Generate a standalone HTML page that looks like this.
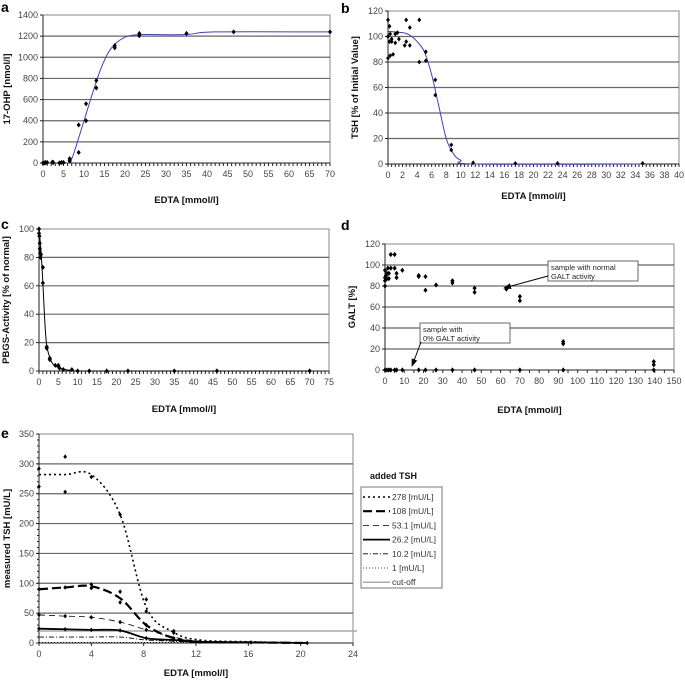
<!DOCTYPE html>
<html><head><meta charset="utf-8"><style>
body{margin:0;background:#fff}
svg{display:block;font-family:"Liberation Sans",Arial,sans-serif}
</style></head><body>
<svg id="fig" width="685" height="682" viewBox="0 0 685 682" xmlns="http://www.w3.org/2000/svg"></svg>
<script>
// ---- data: panel a
const aX=[0,0.3,0.6,1,2.3,2.5,4,4.5,5,6.5,6.5,8.7,8.7,10.5,10.5,13,13,17.5,17.5,23.5,23.5,35,46.5,70];
const aY=[0,0,5,5,8,5,0,5,5,40,20,360,100,560,400,780,710,1110,1090,1225,1205,1225,1240,1240];
const aFitX=[0,6,7,8,10,12,14,16,18,20,22,25,35,42,70];
const aFitY=[0,0,40,150,400,650,880,1050,1140,1190,1210,1215,1215,1240,1240];
// ---- panel b
const bX=[0,0,0,0.2,0.2,0.3,0.3,0.5,0.5,0.7,1,1,1.3,1.5,2.3,2.5,2.5,3,3,4.3,4.3,5.2,5.2,6.5,6.5,8.7,8.7,11.7,17.5,23.3,35];
const bY=[113,100,83,108,96,102,85,98,96,86,102,95,103,98,93,113,96,107,93,113,80,88,81,66,54,15,11,1,0.5,0.5,0.5];
const bFitX=[0,2,3,4,5,6,7,8,9,10,12,35];
const bFitY=[104,103,101,96,88,70,45,20,8,3,0,0];
// ---- panel c
const cX=[0,0,0.1,0.2,0.2,0.3,0.4,0.5,1,1,2,2,2.8,2.8,4.2,5,5.3,6.3,8.5,10,13,17.5,23,35,46,70];
const cY=[100,97,95,90,86,83,80,82,73,62,17,16,9,8,4,4,2,1,1,0,0,0,0,0,0,0];
const cFitX=[0,0.5,1,1.5,2,3,4,6,8,10,15,70];
const cFitY=[100,85,62,35,18,8,4,1.5,0.5,0,0,0];
// ---- panel d
const dX=[0,0,0,0,0.5,1,1,1.5,2,2,3,3,5,5,6,6,9,17.5,17.5,21,21,26.5,35,35,46.5,46.5,63,70,70,92.5,92.5,139.5,139.5,0,1,2,3,5,6,9,17.5,21,26.5,35,46.5,70,92.5,139.5];
const dY=[88,85,80,95,90,87,92,97,87,92,110,97,110,97,92,88,95,90,89,89,76,81,85,83,78,74,77,70,66,27,25,8,5,0,0,0,0,0,0,0,0,0,0,0,0,0,0,0];
// ---- panel e
const eX=[0,2,4,6.2,8.2,10.3,12.3,16.2,20.5];
const eS278=[282,282,282,215,60,18,5,2,0];
const eS108=[90,93,95,75,30,8,2,1,0];
const eS53=[47,45,43,35,22,10,3,1,0];
const eS26=[24,23,22,21,8,5,2,1,0];
const eS10=[10,10,10,10,5,3,1,0.5,0];
const eS1=[1,1,1,1,1,1,0.5,0.5,0];
const eCut=20;
const ePtX=[0,0,2,2,4,6.2,8.2,8.2,10.3,10.3,0,2,4,4,6.2,6.2,8.2,10.3,0,2,4,6.2,8.2,0,2,4,6.2,8.2,10.3,12.3,16.2,20.5];
const ePtY=[292,262,312,253,278,215,73,53,20,17,90,93,98,92,86,68,30,8,47,45,43,35,22,24,23,22,21,8,5,2,1,0];
const eLegend=["278 [mU/L]","108 [mU/L]","53.1 [mU/L]","26.2 [mU/L]","10.2 [mU/L]","1 [mU/L]","cut-off"];

const NS="http://www.w3.org/2000/svg";
const svg=document.getElementById('fig');
function mk(tag,attrs,parent){const e=document.createElementNS(NS,tag);for(const k in attrs)e.setAttribute(k,attrs[k]);(parent||svg).appendChild(e);return e;}
function txt(s,x,y,attrs){const t=mk('text',Object.assign({x:x,y:y,'font-size':9,fill:'#444'},attrs||{}));t.textContent=s;return t;}

function panel(o){
  const g=mk('g',{});
  
  
  const sx=v=>o.px0+(v-o.xmin)/(o.xmax-o.xmin)*(o.px1-o.px0);
  const sy=v=>o.py0-(v-o.ymin)/(o.ymax-o.ymin)*(o.py0-o.py1);
  mk('rect',{x:o.px0,y:o.py1,width:o.px1-o.px0,height:o.py0-o.py1,fill:'#fff',stroke:'#888','stroke-width':1},g);
  for(let v=o.ymin+o.ystep;v<o.ymax;v+=o.ystep){
    const gl=mk('line',{x1:o.px0,x2:o.px1,y1:sy(v),y2:sy(v),stroke:'#666','stroke-width':1.2},g);
    
    
  }
  mk('line',{x1:o.px0,x2:o.px0,y1:o.py1,y2:o.py0,stroke:'#222'},g);
  mk('line',{x1:o.px0,x2:o.px1,y1:o.py0,y2:o.py0,stroke:'#222'},g);
  for(let v=o.ymin;v<=o.ymax+1e-9;v+=o.ystep){
    mk('line',{x1:o.px0-3,x2:o.px0,y1:sy(v),y2:sy(v),stroke:'#222'},g);
    const t=txt(String(v),o.px0-5,sy(v)+3,{'text-anchor':'end'});
    
    
  }
  if(o.yminor){for(let v=o.ymin;v<=o.ymax;v+=o.yminor)mk('line',{x1:o.px0-2,x2:o.px0,y1:sy(v),y2:sy(v),stroke:'#222'},g);}
  for(let v=o.xmin;v<=o.xmax+1e-9;v+=o.xminor)mk('line',{x1:sx(v),x2:sx(v),y1:o.py0,y2:o.py0+3,stroke:'#222'},g);
  for(let v=o.xmin;v<=o.xmax+1e-9;v+=o.xstep){
    const t=txt(String(v),sx(v),o.py0+14,{'text-anchor':'middle'});
    
    
  }
  const xl=txt(o.xlabel,(o.px0+o.px1)/2,o.xly,{'text-anchor':'middle','font-weight':'bold','font-size':9.5,fill:'#111'});
  
  
  const yl=txt(o.ylabel,0,0,{'text-anchor':'middle','font-weight':'bold','font-size':9.5,fill:'#111',transform:`translate(${o.ylx},${(o.py0+o.py1)/2}) rotate(-90)`});
  
  
  const pl=txt(o.letter,o.lx,o.ly,{'font-weight':'bold','font-size':14,fill:'#000'});
  
  
  return {g,sx,sy};
}
function smooth(xs,ys,sx,sy){
  const p=xs.map((x,i)=>[sx(x),sy(ys[i])]);
  let d=`M${p[0][0]},${p[0][1]}`;
  for(let i=0;i<p.length-1;i++){
    const p0=p[i-1]||p[i],p1=p[i],p2=p[i+1],p3=p[i+2]||p2;
    d+=` C${p1[0]+(p2[0]-p0[0])/6},${p1[1]+(p2[1]-p0[1])/6} ${p2[0]-(p3[0]-p1[0])/6},${p2[1]-(p3[1]-p1[1])/6} ${p2[0]},${p2[1]}`;
  }
  return d;
}
function points(xs,ys,P,name,r){
  r=r||2.6;
  xs.forEach((x,i)=>{
    const cx=P.sx(x),cy=P.sy(ys[i]);
    const m=mk('path',{d:`M${cx},${cy-r} L${cx+r*0.8},${cy} L${cx},${cy+r} L${cx-r*0.8},${cy} Z`,fill:'#000'},P.g);
    
    
  });
}

// Panel a
const A=panel({name:'panel-a',px0:43,px1:330,py0:163,py1:15,xmin:0,xmax:70,ymin:0,ymax:1400,xstep:5,xminor:1,ystep:200,xlabel:'EDTA [mmol/l]',xly:203,ylabel:'17-OHP  [nmol/l]',ylx:10,letter:'a',lx:1,ly:12});
const aFit=mk('path',{d:smooth(aFitX,aFitY,A.sx,A.sy),fill:'none',stroke:'#4040c0','stroke-width':1},A.g);


points(aX,aY,A,'data-point');

// Panel b
const B=panel({name:'panel-b',px0:388,px1:679,py0:164,py1:11,xmin:0,xmax:40,ymin:0,ymax:120,xstep:2,xminor:0.5,ystep:20,xlabel:'EDTA [mmol/l]',xly:199,ylabel:'TSH [% of Initial Value]',ylx:358,letter:'b',lx:341,ly:13});
const bFit=mk('path',{d:smooth(bFitX,bFitY,B.sx,B.sy),fill:'none',stroke:'#4040c0','stroke-width':1},B.g);


points(bX,bY,B,'data-point',2.4);

// Panel c
const C=panel({name:'panel-c',px0:39,px1:329,py0:371,py1:229,xmin:0,xmax:75,ymin:0,ymax:100,xstep:5,xminor:1,ystep:20,xlabel:'EDTA [mmol/l]',xly:412,ylabel:'PBGS-Activity [% of normal]',ylx:9,letter:'c',lx:1,ly:229});
const cFit=mk('path',{d:smooth(cFitX,cFitY,C.sx,C.sy),fill:'none',stroke:'#000','stroke-width':1},C.g);


points(cX,cY,C,'data-point');

// Panel d
const D=panel({name:'panel-d',px0:385,px1:674,py0:370,py1:244,xmin:0,xmax:150,ymin:0,ymax:120,xstep:10,xminor:5,ystep:20,xlabel:'EDTA [mmol/l]',xly:413,ylabel:'GALT [%]',ylx:355,letter:'d',lx:341,ly:230});
points(dX,dY,D,'data-point');
mk('defs',{}).innerHTML='<marker id="ar" markerWidth="8" markerHeight="8" refX="7" refY="4" orient="auto"><path d="M0,1 L8,4 L0,7 Z" fill="#000"/></marker>';
const ann1=mk('g',{});


mk('rect',{x:548,y:261,width:90,height:20,fill:'#fff',stroke:'#666'},ann1);
txt('sample with normal',551,270,{'font-size':7.5,fill:'#222'},ann1);
txt('GALT activity',551,279,{'font-size':7.5,fill:'#222'},ann1);
mk('line',{x1:548,y1:276,x2:504,y2:288,stroke:'#000','marker-end':'url(#ar)'},ann1);
const ann2=mk('g',{});


mk('rect',{x:420,y:323,width:90,height:20,fill:'#fff',stroke:'#666'},ann2);
txt('sample with',423,332,{'font-size':7.5,fill:'#222'});
txt('0% GALT activity',423,341,{'font-size':7.5,fill:'#222'});
mk('line',{x1:421,y1:342,x2:412,y2:366,stroke:'#000','marker-end':'url(#ar)'},ann2);

// Panel e
const E=panel({name:'panel-e',px0:39,px1:353,py0:643,py1:434,xmin:0,xmax:24,ymin:0,ymax:350,xstep:4,xminor:4,ystep:50,yminor:10,xlabel:'EDTA [mmol/l]',xly:676,ylabel:'measured TSH [mU/L]',ylx:10,letter:'e',lx:1,ly:438});
const cut=mk('line',{x1:E.sx(0),x2:357,y1:E.sy(eCut),y2:E.sy(eCut),stroke:'#aaa','stroke-width':1.5},E.g);


const styles=[
 {data:eS278,dash:'2,3',w:1.6,name:'series-278'},
 {data:eS108,dash:'9,4',w:2.2,name:'series-108'},
 {data:eS53,dash:'6,4',w:0.8,name:'series-53'},
 {data:eS26,dash:'',w:1.8,name:'series-26'},
 {data:eS10,dash:'5,2,1,2',w:0.9,name:'series-10'},
 {data:eS1,dash:'1,2',w:0.8,name:'series-1'}];
styles.forEach(s=>{
  const p=mk('path',{d:smooth(eX,s.data,E.sx,E.sy),fill:'none',stroke:'#000','stroke-width':s.w,'stroke-dasharray':s.dash},E.g);
  
  
});
points(ePtX,ePtY,E,'data-point',2.3);
const at=txt('added TSH',370,479,{'font-weight':'bold','font-size':9,fill:'#111'});


const lg=mk('g',{});


mk('rect',{x:361,y:487,width:81,height:101,fill:'#fff',stroke:'#777'},lg);
eLegend.forEach((lab,i)=>{
  const y=497+i*14.2;
  const st=styles[i];
  const ln=mk('line',{x1:363,x2:390,y1:y,y2:y,stroke:st?'#000':'#aaa','stroke-width':st?st.w:1.5,'stroke-dasharray':st?st.dash:''},lg);
  
  
  const t=txt(lab,392,y+3,{'font-size':8.5,fill:'#333'});
  lg.appendChild(t);
  
  
});
</script>
</body></html>
